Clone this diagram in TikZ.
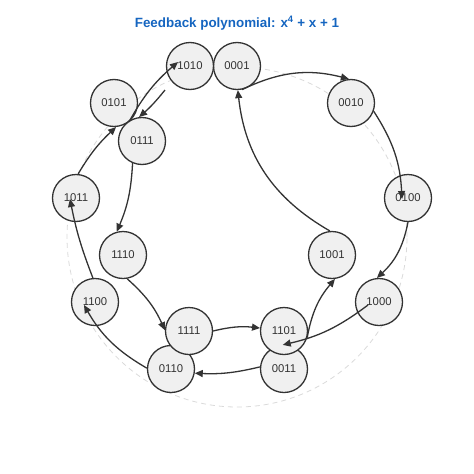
\documentclass[tikz,border=0pt]{standalone}
\usepackage{fontspec}
\setmainfont{Liberation Sans}
\usetikzlibrary{arrows.meta}
\definecolor{ttl}{HTML}{1565C0}
\definecolor{edgec}{HTML}{333333}
\definecolor{nodef}{HTML}{F0F0F0}
\definecolor{txt}{HTML}{333333}
\definecolor{ringc}{HTML}{DADADA}
\begin{document}
\begin{tikzpicture}[x=1pt,y=1pt,
  st/.style={circle, draw=edgec, fill=nodef, line width=1.3pt, minimum size=47pt, inner sep=0pt, font=\fontsize{11.3}{13}\selectfont, text=txt},
  tr/.style={draw=edgec, line width=1.3pt, -{Triangle[length=8pt,width=7pt]}}]
\useasboundingbox (0,0) rectangle (474,-474);
\draw[ringc, line width=0.8pt, dash pattern=on 5pt off 4pt] (237,-237) circle[radius=170pt];
\node[font=\bfseries\fontsize{13.4}{15}\selectfont, text=ttl] (title) at (237,-23) {Feedback polynomial: x\textsuperscript{4} + x + 1};
\node[st] (n0001) at (237,-66) {0001};
\node[st] (n0010) at (351,-103) {0010};
\node[st] (n0100) at (408,-198) {0100};
\node[st] (n1000) at (379,-302) {1000};
\node[st] (n0011) at (284,-369) {0011};
\node[st] (n0110) at (171,-369) {0110};
\node[st] (n1100) at (95,-302) {1100};
\node[st] (n1011) at (76,-198) {1011};
\node[st] (n0101) at (114,-103) {0101};
\node[st] (n1010) at (190,-66) {1010};
\node[st] (n0111) at (142,-141) {0111};
\node[st] (n1110) at (123,-255) {1110};
\node[st] (n1111) at (189,-331) {1111};
\node[st] (n1101) at (284,-331) {1101};
\node[st] (n1001) at (332,-255) {1001};
\draw[tr] (n0001.-78) to[bend left=20] (n0010.95);
\draw[tr] (n0010.-20) to[bend left=15] ([shift={(-6,-1)}]n0100.center);
\draw[tr] (n0100.-90) to[bend left=18] (n1000.95);
\draw[tr] ([shift={(-11,-3)}]n1000.center) to[bend left=12] (n0011.93);
\draw[tr] (n0011.175) to[bend left=8] (n0110.-10);
\draw[tr] (n0110.178) to[bend left=15] ([shift={(-11,-3)}]n1100.center);
\draw[tr] (n1100.95) to[bend left=5] ([shift={(-6,-1)}]n1011.center);
\draw[tr] (n1011.85) to[bend left=8] (n0101.-85);
\draw[tr] (n0101.-52) to[bend left=10] ([shift={(-12,4)}]n1010.center);
\draw[tr] ([shift={(-25,-24)}]n1010.center) to[bend left=5] (n0111.97);
\draw[tr] (n0111.-113) to[bend left=10] (n1110.105);
\draw[tr] (n1110.-80) to[bend left=12] (n1111.178);
\draw[tr] (n1111.0) to[bend left=10] (n1101.173);
\draw[tr] (n1101.-16) to[bend left=15] (n1001.-83);
\draw[tr] (n1001.95) to[bend left=27] (n0001.-88);
\end{tikzpicture}
\end{document}
